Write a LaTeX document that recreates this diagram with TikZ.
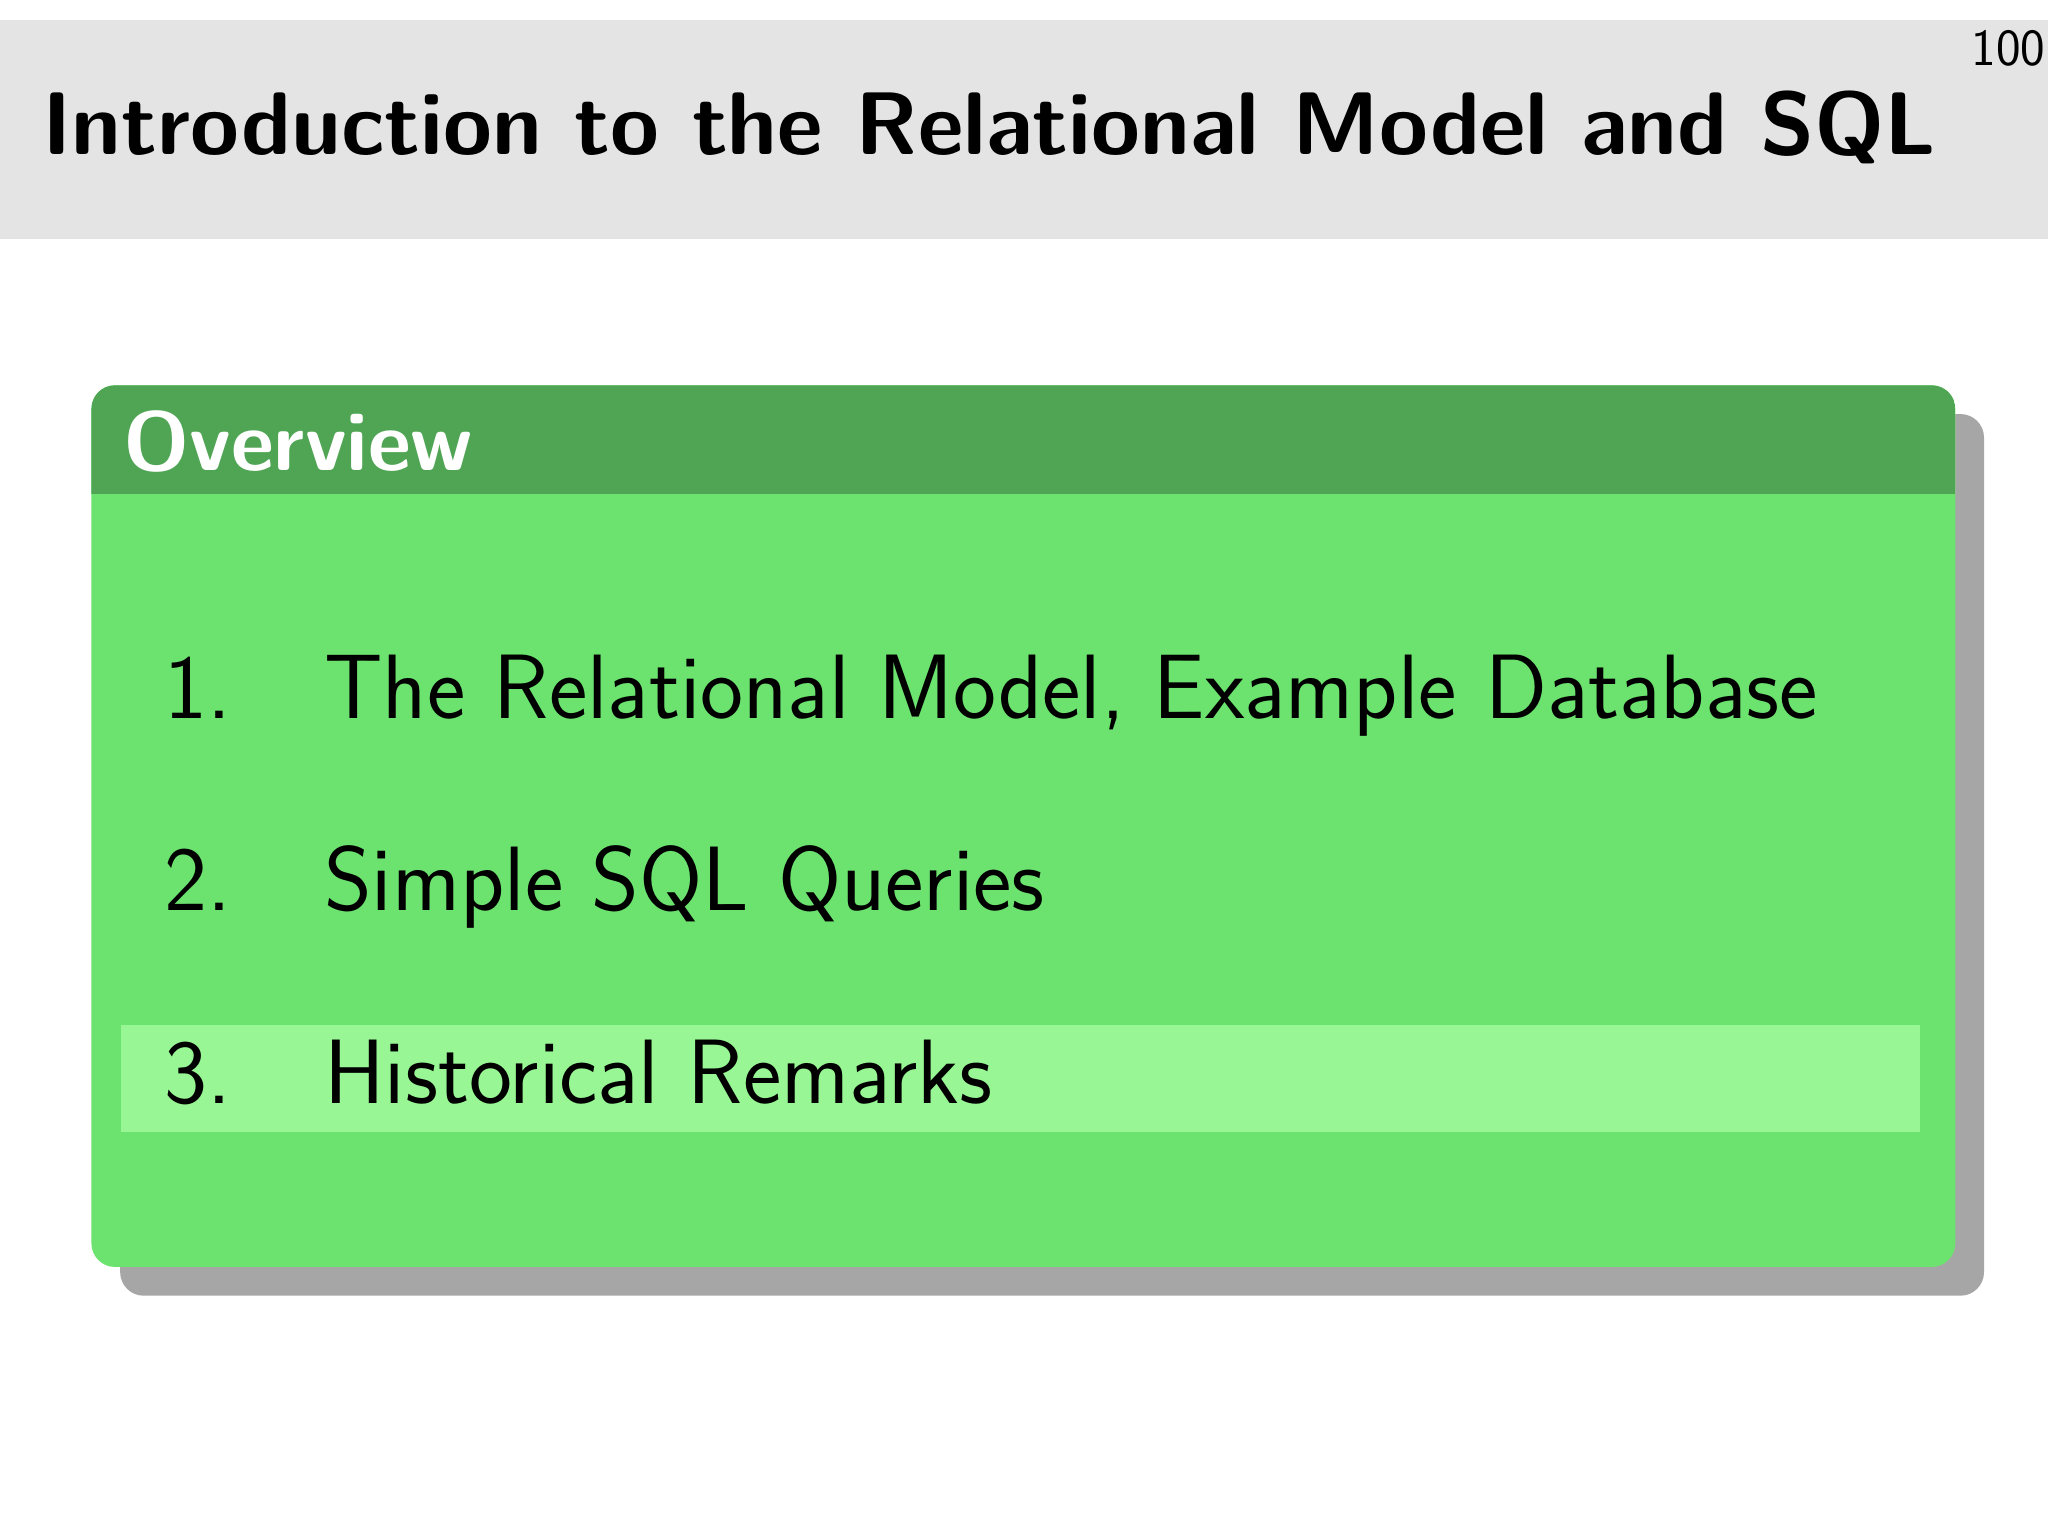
\documentclass[tikz,border=0pt]{standalone}
\usetikzlibrary{shadows}
\definecolor{hdr}{HTML}{E4E4E4}
\definecolor{dg}{HTML}{50A555}
\definecolor{lg}{HTML}{6CE26F}
\definecolor{hl}{HTML}{98F794}
\tikzset{item/.style={anchor=base west,font=\sffamily\fontsize{70}{80}\selectfont,inner sep=0pt}}
\begin{document}
\begin{tikzpicture}[x=1pt,y=-1pt]
\useasboundingbox (0,0) rectangle (1568,1176);
\fill[hdr] (0,15) rectangle (1568,183);
\node[anchor=base west,inner sep=0pt,font=\sffamily\bfseries\fontsize{68}{80}\selectfont] (title) at (32,118) {Introduction to the Relational Model and SQL};
\node[anchor=base east,inner sep=0pt,font=\sffamily\fontsize{40}{48}\selectfont] (pg) at (1566,50) {100};
\fill[black!35,rounded corners=18pt] (92,317) rectangle (1519,992);
\fill[lg,rounded corners=18pt] (70,295) rectangle (1497,970);
\begin{scope}
\clip[rounded corners=18pt] (70,295) rectangle (1497,970);
\fill[dg] (70,295) rectangle (1497,378);
\end{scope}
\node[anchor=base west,inner sep=0pt,text=white,font=\sffamily\bfseries\fontsize{64}{72}\selectfont] (ov) at (94,360) {Overview};
\fill[hl] (93,785) rectangle (1470,867);
\node[item] (n1) at (126,550) {1.};
\node[item] (t1) at (248,550) {The Relational Model, Example Database};
\node[item] (n2) at (126,697) {2.};
\node[item] (t2) at (248,697) {Simple SQL Queries};
\node[item] (n3) at (126,845) {3.};
\node[item] (t3) at (248,845) {Historical Remarks};
\end{tikzpicture}
\end{document}
